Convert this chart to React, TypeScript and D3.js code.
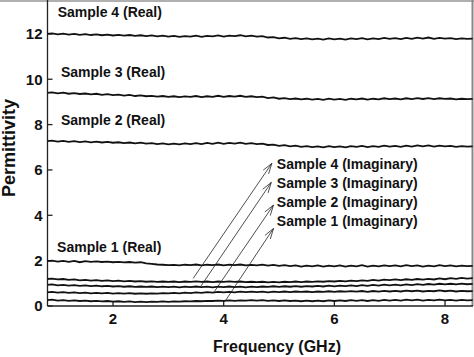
import React from "react";
import * as d3 from "d3";

const W = 474;
const H = 357;

// Frequency sampling grid (GHz)
const freqs: number[] = d3.range(0, 78).map((i) => +(0.8 + i * 0.1).toFixed(1));

const real4: number[] = [
  12.0, 12.02, 11.98, 12.01, 11.97, 12.0, 11.96, 11.99, 11.95, 11.98, 11.94, 11.97, 11.93,
  11.96, 11.92, 11.95, 11.91, 11.94, 11.9, 11.93, 11.89, 11.92, 11.88,
  11.91, 11.87, 11.9, 11.88, 11.92, 11.87, 11.91, 11.89, 11.93, 11.88, 11.92, 11.9, 11.94, 11.89, 11.92,
  11.88, 11.9, 11.84, 11.86, 11.8, 11.83, 11.78, 11.81, 11.77, 11.8,
  11.76, 11.79, 11.75, 11.8, 11.76, 11.79, 11.75, 11.8, 11.77, 11.81, 11.76, 11.8, 11.77, 11.82, 11.78,
  11.81, 11.77, 11.82, 11.78, 11.83, 11.79, 11.84, 11.78, 11.82, 11.79, 11.81, 11.77, 11.8, 11.78, 11.79,
];
const real3: number[] = [
  9.4, 9.42, 9.38, 9.41, 9.36, 9.39, 9.35, 9.37, 9.33, 9.36, 9.31, 9.34, 9.3,
  9.32, 9.28, 9.31, 9.26, 9.29, 9.25, 9.27, 9.23, 9.26, 9.22,
  9.25, 9.21, 9.24, 9.22, 9.26, 9.21, 9.25, 9.22, 9.27, 9.22, 9.26, 9.23, 9.27, 9.22, 9.25,
  9.21, 9.23, 9.17, 9.2, 9.14, 9.17, 9.12, 9.15, 9.11, 9.14,
  9.1, 9.13, 9.09, 9.14, 9.1, 9.13, 9.09, 9.14, 9.11, 9.15, 9.1, 9.14, 9.11, 9.16, 9.12,
  9.15, 9.11, 9.16, 9.12, 9.17, 9.13, 9.17, 9.12, 9.16, 9.13, 9.15, 9.11, 9.14, 9.12, 9.13,
];
const real2: number[] = [
  7.27, 7.29, 7.25, 7.28, 7.24, 7.27, 7.23, 7.26, 7.22, 7.25, 7.21, 7.24, 7.2,
  7.22, 7.18, 7.21, 7.17, 7.2, 7.16, 7.18, 7.14, 7.17, 7.13,
  7.16, 7.13, 7.17, 7.14, 7.18, 7.14, 7.19, 7.15, 7.2, 7.15, 7.19, 7.16, 7.2, 7.15, 7.18,
  7.14, 7.16, 7.1, 7.12, 7.06, 7.09, 7.04, 7.07, 7.02, 7.05,
  7.01, 7.04, 7.0, 7.05, 7.01, 7.04, 7.0, 7.05, 7.02, 7.06, 7.01, 7.05, 7.02, 7.07, 7.03,
  7.06, 7.02, 7.07, 7.03, 7.08, 7.04, 7.08, 7.03, 7.07, 7.04, 7.06, 7.02, 7.05, 7.03, 7.04,
];
const real1: number[] = [
  1.98, 2.0, 1.96, 1.99, 1.95, 1.99, 1.93, 1.98, 1.95, 1.97, 1.94, 1.96, 1.93,
  1.95, 1.92, 1.94, 1.91, 1.93, 1.88, 1.86, 1.83, 1.82, 1.8,
  1.81, 1.79, 1.82, 1.8, 1.83, 1.79, 1.82, 1.8, 1.83, 1.79, 1.82, 1.8, 1.83, 1.79, 1.81,
  1.79, 1.82, 1.78, 1.81, 1.77, 1.8, 1.76, 1.79, 1.74, 1.78,
  1.75, 1.79, 1.74, 1.78, 1.75, 1.79, 1.74, 1.78, 1.75, 1.8, 1.74, 1.78, 1.75, 1.79, 1.76,
  1.79, 1.75, 1.8, 1.76, 1.79, 1.74, 1.78, 1.75, 1.8, 1.76, 1.79, 1.75, 1.78, 1.76, 1.77,
];
const imag4: number[] = [
  1.19, 1.21, 1.17, 1.19, 1.15, 1.17, 1.13, 1.15, 1.12, 1.14, 1.11, 1.13, 1.1,
  1.12, 1.09, 1.11, 1.08, 1.1, 1.07, 1.09, 1.06, 1.08, 1.06,
  1.08, 1.05, 1.08, 1.06, 1.09, 1.06, 1.08, 1.05, 1.08, 1.06, 1.09, 1.06, 1.08, 1.05, 1.07,
  1.05, 1.07, 1.04, 1.06, 1.04, 1.07, 1.05, 1.08, 1.05, 1.08,
  1.06, 1.09, 1.07, 1.1, 1.08, 1.11, 1.09, 1.12, 1.1, 1.13, 1.11, 1.15, 1.12, 1.16, 1.14,
  1.17, 1.14, 1.18, 1.15, 1.19, 1.16, 1.2, 1.17, 1.22, 1.18, 1.23, 1.2, 1.24, 1.21, 1.23,
];
const imag3: number[] = [
  0.93, 0.95, 0.91, 0.93, 0.9, 0.92, 0.89, 0.91, 0.88, 0.9, 0.87, 0.89, 0.86,
  0.88, 0.85, 0.87, 0.84, 0.86, 0.84, 0.86, 0.83, 0.85, 0.83,
  0.85, 0.82, 0.85, 0.83, 0.86, 0.83, 0.85, 0.82, 0.85, 0.83, 0.86, 0.83, 0.85, 0.82, 0.85,
  0.83, 0.86, 0.84, 0.87, 0.84, 0.87, 0.85, 0.88, 0.85, 0.88,
  0.86, 0.89, 0.86, 0.9, 0.87, 0.9, 0.88, 0.91, 0.88, 0.92, 0.89, 0.93, 0.9, 0.94, 0.91,
  0.94, 0.91, 0.95, 0.92, 0.96, 0.93, 0.97, 0.94, 0.98, 0.95, 0.98, 0.95, 0.99, 0.96, 0.98,
];
const imag2: number[] = [
  0.6, 0.62, 0.59, 0.61, 0.58, 0.6, 0.57, 0.59, 0.56, 0.58, 0.56, 0.58, 0.55,
  0.57, 0.55, 0.57, 0.54, 0.56, 0.54, 0.56, 0.55, 0.57, 0.56,
  0.58, 0.56, 0.59, 0.57, 0.6, 0.58, 0.61, 0.59, 0.62, 0.6, 0.62, 0.6, 0.63, 0.61, 0.63,
  0.61, 0.63, 0.6, 0.63, 0.61, 0.64, 0.61, 0.64, 0.62, 0.64,
  0.61, 0.64, 0.62, 0.65, 0.62, 0.65, 0.63, 0.66, 0.63, 0.66, 0.62, 0.66, 0.63, 0.67, 0.64,
  0.67, 0.64, 0.68, 0.65, 0.68, 0.64, 0.67, 0.65, 0.69, 0.65, 0.68, 0.64, 0.67, 0.65, 0.66,
];
const imag1: number[] = [
  0.26, 0.28, 0.24, 0.26, 0.23, 0.25, 0.22, 0.24, 0.21, 0.23, 0.2, 0.22, 0.19,
  0.21, 0.18, 0.2, 0.17, 0.19, 0.17, 0.19, 0.18, 0.2, 0.18,
  0.2, 0.19, 0.21, 0.2, 0.22, 0.21, 0.23, 0.22, 0.24, 0.23, 0.25, 0.23, 0.25, 0.24, 0.26,
  0.24, 0.26, 0.23, 0.25, 0.22, 0.25, 0.22, 0.24, 0.21, 0.24,
  0.21, 0.24, 0.21, 0.25, 0.22, 0.25, 0.22, 0.26, 0.23, 0.26, 0.22, 0.26, 0.23, 0.27, 0.24,
  0.27, 0.24, 0.28, 0.25, 0.28, 0.24, 0.27, 0.25, 0.28, 0.25, 0.27, 0.24, 0.27, 0.25, 0.26,
];

const seriesList: number[][] = [real4, real3, real2, real1, imag4, imag3, imag2, imag1];

const realLabels: string[] = ["Sample 4 (Real)", "Sample 3 (Real)", "Sample 2 (Real)", "Sample 1 (Real)"];
const realLabelPos: [number, number][] = [
  [1.0, 12.75],
  [1.06, 10.1],
  [1.06, 7.98],
  [0.99, 2.37],
];
const imagLabels: string[] = [
  "Sample 4 (Imaginary)",
  "Sample 3 (Imaginary)",
  "Sample 2 (Imaginary)",
  "Sample 1 (Imaginary)",
];
const imagLabelY: number[] = [6.05, 5.2, 4.36, 3.51];
const imagLabelX = 4.96;
// arrows: [x0, y0, x1, y1] in data units
const arrows: [number, number, number, number][] = [
  [3.45, 1.22, 4.87, 6.29],
  [3.59, 0.88, 4.86, 5.45],
  [3.83, 0.63, 4.9, 4.45],
  [4.02, 0.19, 4.9, 3.42],
];

const xTicks: number[] = [2, 4, 6, 8];
const yTicks: number[] = [0, 2, 4, 6, 8, 10, 12];

const FONT = "'Liberation Sans', Arial, Helvetica, sans-serif";

export default function App() {
  const left = 47.5;
  const right = 473;
  const top = 1;
  const bottom = 306;
  const x = d3.scaleLinear().domain([0.8, 8.5]).range([46.6, 472.7]);
  const y = d3.scaleLinear().domain([0, 13.45]).range([306, 1]);
  const line = d3
    .line<number>()
    .x((_, i) => x(freqs[i]))
    .y((d) => y(d))
    .curve(d3.curveLinear);

  const arrowHead = (a: [number, number, number, number], k: number) => {
    const x0 = x(a[0]), y0 = y(a[1]), x1 = x(a[2]), y1 = y(a[3]);
    const ang = Math.atan2(y1 - y0, x1 - x0);
    const len = 11;
    const spread = 0.3;
    const p1 = [x1 - len * Math.cos(ang - spread), y1 - len * Math.sin(ang - spread)];
    const p2 = [x1 - len * Math.cos(ang + spread), y1 - len * Math.sin(ang + spread)];
    return (
      <g key={k} stroke="#222" strokeWidth={0.8} fill="none">
        <line x1={x0} y1={y0} x2={x1} y2={y1} />
        <polyline points={`${p1[0]},${p1[1]} ${x1},${y1} ${p2[0]},${p2[1]}`} />
      </g>
    );
  };

  return (
    <svg
      width={W}
      height={H}
      viewBox={`0 0 ${W} ${H}`}
      style={{ position: "absolute", left: 0, top: 0, background: "#fff" }}
      fontFamily={FONT}
    >
      <defs>
        <clipPath id="plot">
          <rect x={left} y={top} width={right - left} height={bottom - top} />
        </clipPath>
      </defs>
      {/* frame */}
      <line x1={0} y1={1} x2={W} y2={1} stroke="#b0b0b0" strokeWidth={2} />
      <line x1={472.5} y1={0} x2={472.5} y2={bottom} stroke="#888" strokeWidth={2} />
      <line x1={left} y1={0} x2={left} y2={bottom} stroke="#222" strokeWidth={1.3} />
      <line x1={left} y1={bottom} x2={right} y2={bottom} stroke="#222" strokeWidth={1.3} />

      {/* ticks */}
      {yTicks.map((t) => (
        <g key={"y" + t}>
          <line x1={left} x2={left + 5} y1={y(t)} y2={y(t)} stroke="#222" strokeWidth={1.3} />
          <text
            x={left - 5}
            y={y(t)}
            dy="0.36em"
            textAnchor="end"
            fontSize={15}
            fontWeight="bold"
            fill="#111"
          >
            {t}
          </text>
        </g>
      ))}
      {xTicks.map((t) => (
        <g key={"x" + t}>
          <line x1={x(t)} x2={x(t)} y1={bottom} y2={bottom - 5} stroke="#222" strokeWidth={1.3} />
          <text
            x={x(t)}
            y={bottom + 17.5}
            textAnchor="middle"
            fontSize={15}
            fontWeight="bold"
            fill="#111"
          >
            {t}
          </text>
        </g>
      ))}

      {/* series */}
      <g clipPath="url(#plot)">
        {seriesList.map((s, i) => (
          <path key={i} d={line(s) || ""} fill="none" stroke="#111" strokeWidth={1.8} />
        ))}
      </g>

      {/* arrows */}
      {arrows.map((a, i) => arrowHead(a, i))}

      {/* labels */}
      {realLabels.map((l, i) => (
        <text
          key={l}
          x={x(realLabelPos[i][0])}
          y={y(realLabelPos[i][1])}
          fontSize={14}
          fontWeight="bold"
          fill="#111"
        >
          {l}
        </text>
      ))}
      {imagLabels.map((l, i) => (
        <text
          key={l}
          x={x(imagLabelX)}
          y={y(imagLabelY[i])}
          fontSize={14}
          fontWeight="bold"
          fill="#111"
        >
          {l}
        </text>
      ))}

      {/* axis titles */}
      <text x={277} y={352} textAnchor="middle" fontSize={16} fontWeight="bold" fill="#111">
        Frequency (GHz)
      </text>
      <text
        transform="translate(15,148) rotate(-90)"
        textAnchor="middle"
        fontSize={18}
        fontWeight="bold"
        fill="#111"
      >
        Permittivity
      </text>
    </svg>
  );
}
